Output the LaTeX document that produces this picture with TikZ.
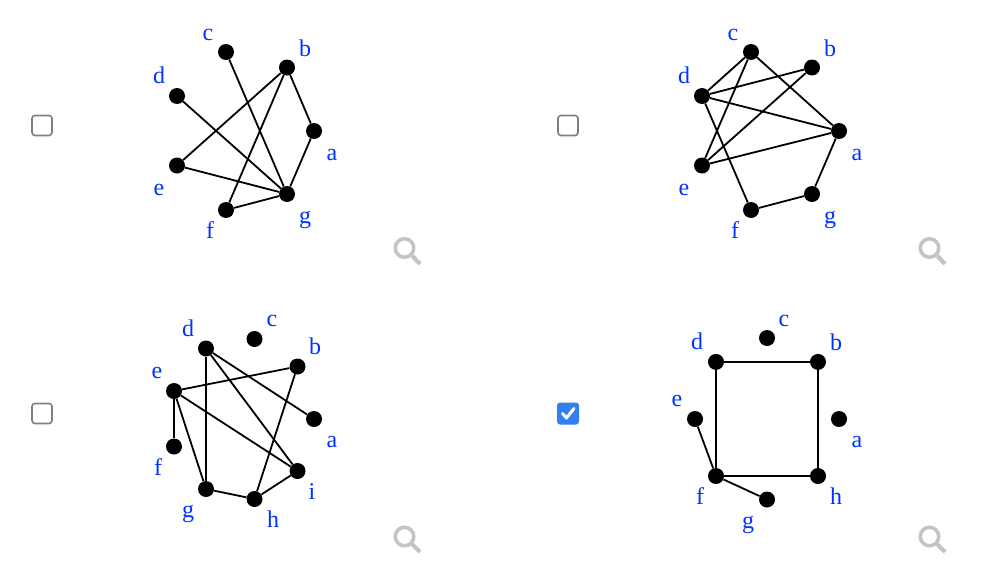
\documentclass[tikz,border=0pt]{standalone}
\usepackage{fontspec}
\setmainfont{Liberation Serif}
\definecolor{lblblue}{HTML}{0033FF}
\definecolor{boxgray}{HTML}{7F7F7F}
\definecolor{chkblue}{HTML}{3180EE}
\definecolor{lensgray}{HTML}{C4C4C4}
\tikzset{
  dot/.style={circle,fill=black,draw=none,minimum size=16pt,inner sep=0pt},
  lbl/.style={text=lblblue,font=\fontsize{24}{26}\selectfont,inner sep=0pt,anchor=base},
  edge/.style={draw=black,line width=1.8pt},
  cbox/.style={draw=boxgray,fill=white,line width=1.6pt,rounded corners=3pt,minimum size=20pt,inner sep=0pt},
  cboxon/.style={fill=chkblue,rounded corners=3pt,minimum size=22pt,inner sep=0pt},
  lens/.style={circle,draw=lensgray,line width=3.6pt,minimum size=18.5pt,inner sep=0pt},
  lenshandle/.style={draw=lensgray,line width=4.2pt},
  tick/.style={draw=white,line width=3pt}
}
\begin{document}
\begin{tikzpicture}[x=1pt,y=-1pt]
\useasboundingbox (0,0) rectangle (985,573);
% top left
\node[dot] (Aa) at (314,131) {};
\node[dot] (Ab) at (287,67.5) {};
\node[dot] (Ac) at (226,52) {};
\node[dot] (Ad) at (177,96) {};
\node[dot] (Ae) at (177,165.5) {};
\node[dot] (Af) at (226,210) {};
\node[dot] (Ag) at (287,194) {};
\node[lbl] (Ala) at (332,160.5) {a};
\node[lbl] (Alb) at (305,56) {b};
\node[lbl] (Alc) at (208,40) {c};
\node[lbl] (Ald) at (159,83.5) {d};
\node[lbl] (Ale) at (159,195) {e};
\node[lbl] (Alf) at (210,238) {f};
\node[lbl] (Alg) at (305,223.3) {g};
\draw[edge] (Ac) -- (Ag);
\draw[edge] (Ab) -- (Ae);
\draw[edge] (Ab) -- (Af);
\draw[edge] (Ab) -- (Aa);
\draw[edge] (Ad) -- (Ag);
\draw[edge] (Aa) -- (Ag);
\draw[edge] (Ae) -- (Ag);
\draw[edge] (Af) -- (Ag);
% top right
\node[dot] (Ba) at (839,131) {};
\node[dot] (Bb) at (812,67.5) {};
\node[dot] (Bc) at (751,52) {};
\node[dot] (Bd) at (702,96) {};
\node[dot] (Be) at (702,165.5) {};
\node[dot] (Bf) at (751,210) {};
\node[dot] (Bg) at (812,194) {};
\node[lbl] (Bla) at (857,160.5) {a};
\node[lbl] (Blb) at (830,56) {b};
\node[lbl] (Blc) at (733,40) {c};
\node[lbl] (Bld) at (684,83.5) {d};
\node[lbl] (Ble) at (684,195) {e};
\node[lbl] (Blf) at (735,238) {f};
\node[lbl] (Blg) at (830,223.3) {g};
\draw[edge] (Bc) -- (Bd);
\draw[edge] (Bc) -- (Be);
\draw[edge] (Bc) -- (Ba);
\draw[edge] (Bd) -- (Bb);
\draw[edge] (Bd) -- (Ba);
\draw[edge] (Bd) -- (Bf);
\draw[edge] (Be) -- (Bb);
\draw[edge] (Be) -- (Ba);
\draw[edge] (Ba) -- (Bg);
\draw[edge] (Bg) -- (Bf);
% bottom left
\node[dot] (Ca) at (314,419) {};
\node[dot] (Cb) at (297.5,366.5) {};
\node[dot] (Cc) at (254.5,339) {};
\node[dot] (Cd) at (206,348.5) {};
\node[dot] (Ce) at (174,391) {};
\node[dot] (Cf) at (174,446.5) {};
\node[dot] (Cg) at (206,489) {};
\node[dot] (Ch) at (254.5,499) {};
\node[dot] (Ci) at (297.5,471) {};
\node[lbl] (Cla) at (332,447.7) {a};
\node[lbl] (Clb) at (315,354.3) {b};
\node[lbl] (Clc) at (272,326.7) {c};
\node[lbl] (Cld) at (188,336.7) {d};
\node[lbl] (Cle) at (157,378.7) {e};
\node[lbl] (Clf) at (158,475.3) {f};
\node[lbl] (Clg) at (188,517.7) {g};
\node[lbl] (Clh) at (273,527.7) {h};
\node[lbl] (Cli) at (312,499.3) {i};
\draw[edge] (Cd) -- (Ca);
\draw[edge] (Cd) -- (Ci);
\draw[edge] (Cd) -- (Cg);
\draw[edge] (Ce) -- (Cb);
\draw[edge] (Ce) -- (Ci);
\draw[edge] (Ce) -- (Cf);
\draw[edge] (Ce) -- (Cg);
\draw[edge] (Cb) -- (Ch);
\draw[edge] (Cg) -- (Ch);
\draw[edge] (Ch) -- (Ci);
% bottom right
\node[dot] (Da) at (839,419) {};
\node[dot] (Db) at (818,361.9) {};
\node[dot] (Dc) at (767,338) {};
\node[dot] (Dd) at (716,361.9) {};
\node[dot] (De) at (695,419) {};
\node[dot] (Df) at (716,476) {};
\node[dot] (Dg) at (767,499.5) {};
\node[dot] (Dh) at (818,476) {};
\node[lbl] (Dla) at (857,447.7) {a};
\node[lbl] (Dlb) at (836,350) {b};
\node[lbl] (Dlc) at (784,326) {c};
\node[lbl] (Dld) at (697,349.3) {d};
\node[lbl] (Dle) at (677,406.7) {e};
\node[lbl] (Dlf) at (700,504.3) {f};
\node[lbl] (Dlg) at (748,528.3) {g};
\node[lbl] (Dlh) at (836,504.3) {h};
\draw[edge] (Dd) -- (Db);
\draw[edge] (Dd) -- (Df);
\draw[edge] (Db) -- (Dh);
\draw[edge] (Df) -- (Dh);
\draw[edge] (De) -- (Df);
\draw[edge] (Df) -- (Dg);
% checkboxes
\node[cbox] (boxA) at (42,125.5) {};
\node[cbox] (boxB) at (568,125.5) {};
\node[cbox] (boxC) at (42,413.5) {};
\node[cboxon] (boxD) at (568,413.5) {};
\draw[tick,line cap=round,line join=round] (562.5,413.5) -- (566.5,418) -- (574,408.5);
% magnifiers
\node[lens] (lensA) at (404.5,248) {};
\coordinate (hA) at (420,264);
\draw[lenshandle] (lensA.315) -- (hA);
\node[lens] (lensB) at (929.5,248) {};
\coordinate (hB) at (945,264);
\draw[lenshandle] (lensB.315) -- (hB);
\node[lens] (lensC) at (404.5,536.5) {};
\coordinate (hC) at (420,552);
\draw[lenshandle] (lensC.315) -- (hC);
\node[lens] (lensD) at (929.5,536.5) {};
\coordinate (hD) at (945,552);
\draw[lenshandle] (lensD.315) -- (hD);
\end{tikzpicture}
\end{document}
